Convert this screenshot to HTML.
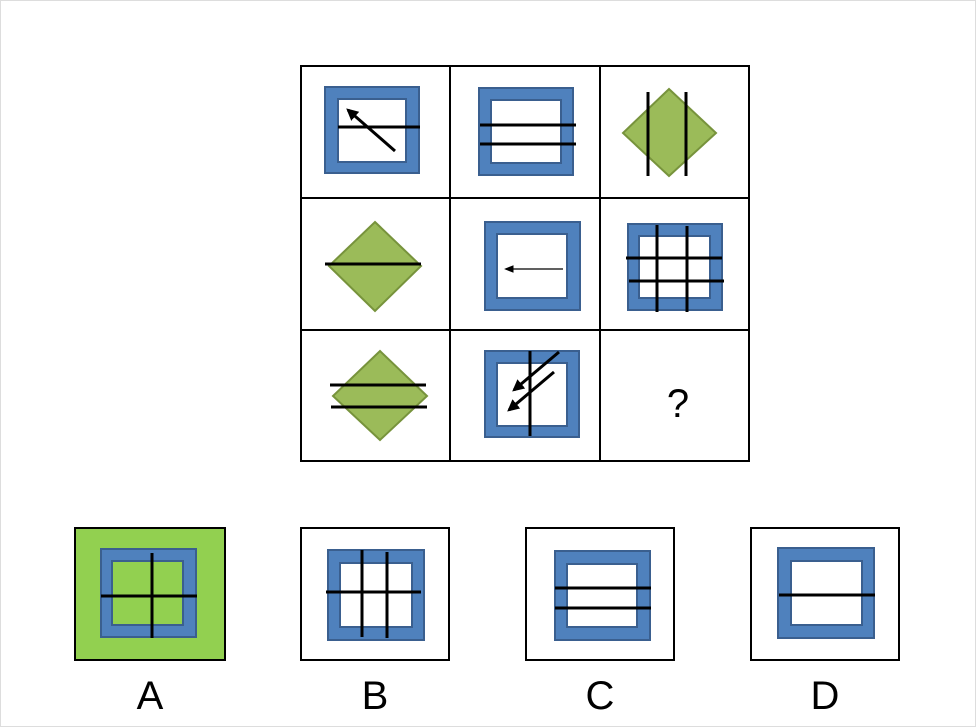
<!DOCTYPE html>
<html><head><style>html,body{margin:0;padding:0;background:#fff;}svg{display:block}</style></head>
<body>
<svg width="976" height="727" viewBox="0 0 976 727" xmlns="http://www.w3.org/2000/svg">
<defs>
<marker id="ah" viewBox="0 0 10 10" refX="8" refY="5" markerWidth="4" markerHeight="4" orient="auto"><path d="M0,0L10,5L0,10z" fill="#000"/></marker>
<marker id="ah2" viewBox="0 0 10 10" refX="8" refY="5" markerWidth="8" markerHeight="8" orient="auto"><path d="M0,1L10,5L0,9z" fill="#000"/></marker>
</defs>
<rect x="0" y="0" width="976" height="727" fill="#fff"/>
<rect x="0.5" y="0.5" width="975" height="726" fill="none" stroke="#ddd"/>
<!-- grid -->
<g stroke="#000" stroke-width="2" fill="none">
<rect x="301" y="66" width="448" height="395"/>
<line x1="450" y1="66" x2="450" y2="461"/>
<line x1="600" y1="66" x2="600" y2="461"/>
<line x1="301" y1="198" x2="749" y2="198"/>
<line x1="301" y1="330" x2="749" y2="330"/>
</g>
<g fill="#4f81bd" stroke="#3a5f8f" stroke-width="2">
<path fill-rule="evenodd" d="M325,87H419V173H325Z M338,99V162H406V99Z"/>
<path fill-rule="evenodd" d="M479,88H573V175H479Z M491,100V163H561V100Z"/>
<path fill-rule="evenodd" d="M485,222H580V310H485Z M497,234V298H567V234Z"/>
<path fill-rule="evenodd" d="M628,224H722V310H628Z M639,236V298H710V236Z"/>
<path fill-rule="evenodd" d="M485,351H579V437H485Z M497,363V426H567V363Z"/>
<path fill-rule="evenodd" d="M101,549H196V637H101Z M112,561V625H183V561Z"/>
<path fill-rule="evenodd" d="M328,550H424V640H328Z M340,563V627H412V563Z"/>
<path fill-rule="evenodd" d="M555,551H650V640H555Z M567,564V627H637V564Z"/>
<path fill-rule="evenodd" d="M778,548H874V638H778Z M791,561V625H862V561Z"/>
</g>
<g fill="#9bbb59" stroke="#77933c" stroke-width="2">
<polygon points="669,89 716,133 669,176 623,133"/>
<polygon points="375,222 421,266 375,311 329,266"/>
<polygon points="380,351 427,396 380,440 333,396"/>
</g>
<g stroke="#000" stroke-width="3">
<line x1="338" y1="127" x2="420" y2="127"/>
<line x1="395" y1="151" x2="348" y2="110" marker-end="url(#ah)"/>
<line x1="480" y1="125" x2="576" y2="125"/>
<line x1="480" y1="144" x2="576" y2="144"/>
<line x1="648" y1="92" x2="648" y2="176"/>
<line x1="686" y1="92" x2="686" y2="176"/>
<line x1="325" y1="264" x2="421" y2="264"/>
<line x1="657" y1="225" x2="657" y2="312"/>
<line x1="687" y1="226" x2="687" y2="312"/>
<line x1="626" y1="258" x2="722" y2="258"/>
<line x1="629" y1="281" x2="724" y2="281"/>
<line x1="330" y1="385" x2="426" y2="385"/>
<line x1="331" y1="407" x2="427" y2="407"/>
<line x1="530" y1="351" x2="530" y2="436"/>
<line x1="559" y1="352" x2="514" y2="390" marker-end="url(#ah)"/>
<line x1="554" y1="372" x2="509" y2="410" marker-end="url(#ah)"/>
</g>
<line x1="563" y1="269" x2="506" y2="269" stroke="#000" stroke-width="1.2" marker-end="url(#ah2)"/>
<text x="678" y="417" font-family="Liberation Sans, sans-serif" font-size="40" text-anchor="middle">?</text>
<!-- options -->
<rect x="75" y="528" width="150" height="132" fill="#92d050" stroke="#000" stroke-width="2"/>
<rect x="112" y="561" width="71" height="64" fill="#92d050"/>
<path fill-rule="evenodd" d="M101,549H196V637H101Z M112,561V625H183V561Z" fill="#4f81bd" stroke="#3a5f8f" stroke-width="2"/>
<g fill="none" stroke="#000" stroke-width="2">
<rect x="301" y="528" width="148" height="132"/>
<rect x="526" y="528" width="148" height="132"/>
<rect x="751" y="528" width="148" height="132"/>
</g>
<g fill="#4f81bd" stroke="#3a5f8f" stroke-width="2">
<path fill-rule="evenodd" d="M328,550H424V640H328Z M340,563V627H412V563Z"/>
<path fill-rule="evenodd" d="M555,551H650V640H555Z M567,564V627H637V564Z"/>
<path fill-rule="evenodd" d="M778,548H874V638H778Z M791,561V625H862V561Z"/>
</g>
<g stroke="#000" stroke-width="3">
<line x1="152" y1="553" x2="152" y2="638"/>
<line x1="101" y1="596" x2="197" y2="596"/>
<line x1="362" y1="550" x2="362" y2="637"/>
<line x1="387" y1="552" x2="387" y2="638"/>
<line x1="326" y1="592" x2="421" y2="592"/>
<line x1="555" y1="588" x2="651" y2="588"/>
<line x1="555" y1="608" x2="651" y2="608"/>
<line x1="779" y1="595" x2="875" y2="595"/>
</g>
<g font-family="Liberation Sans, sans-serif" font-size="40" text-anchor="middle" fill="#000">
<text x="150" y="709">A</text>
<text x="375" y="709">B</text>
<text x="600" y="709">C</text>
<text x="825" y="709">D</text>
</g>
</svg>
</body></html>
